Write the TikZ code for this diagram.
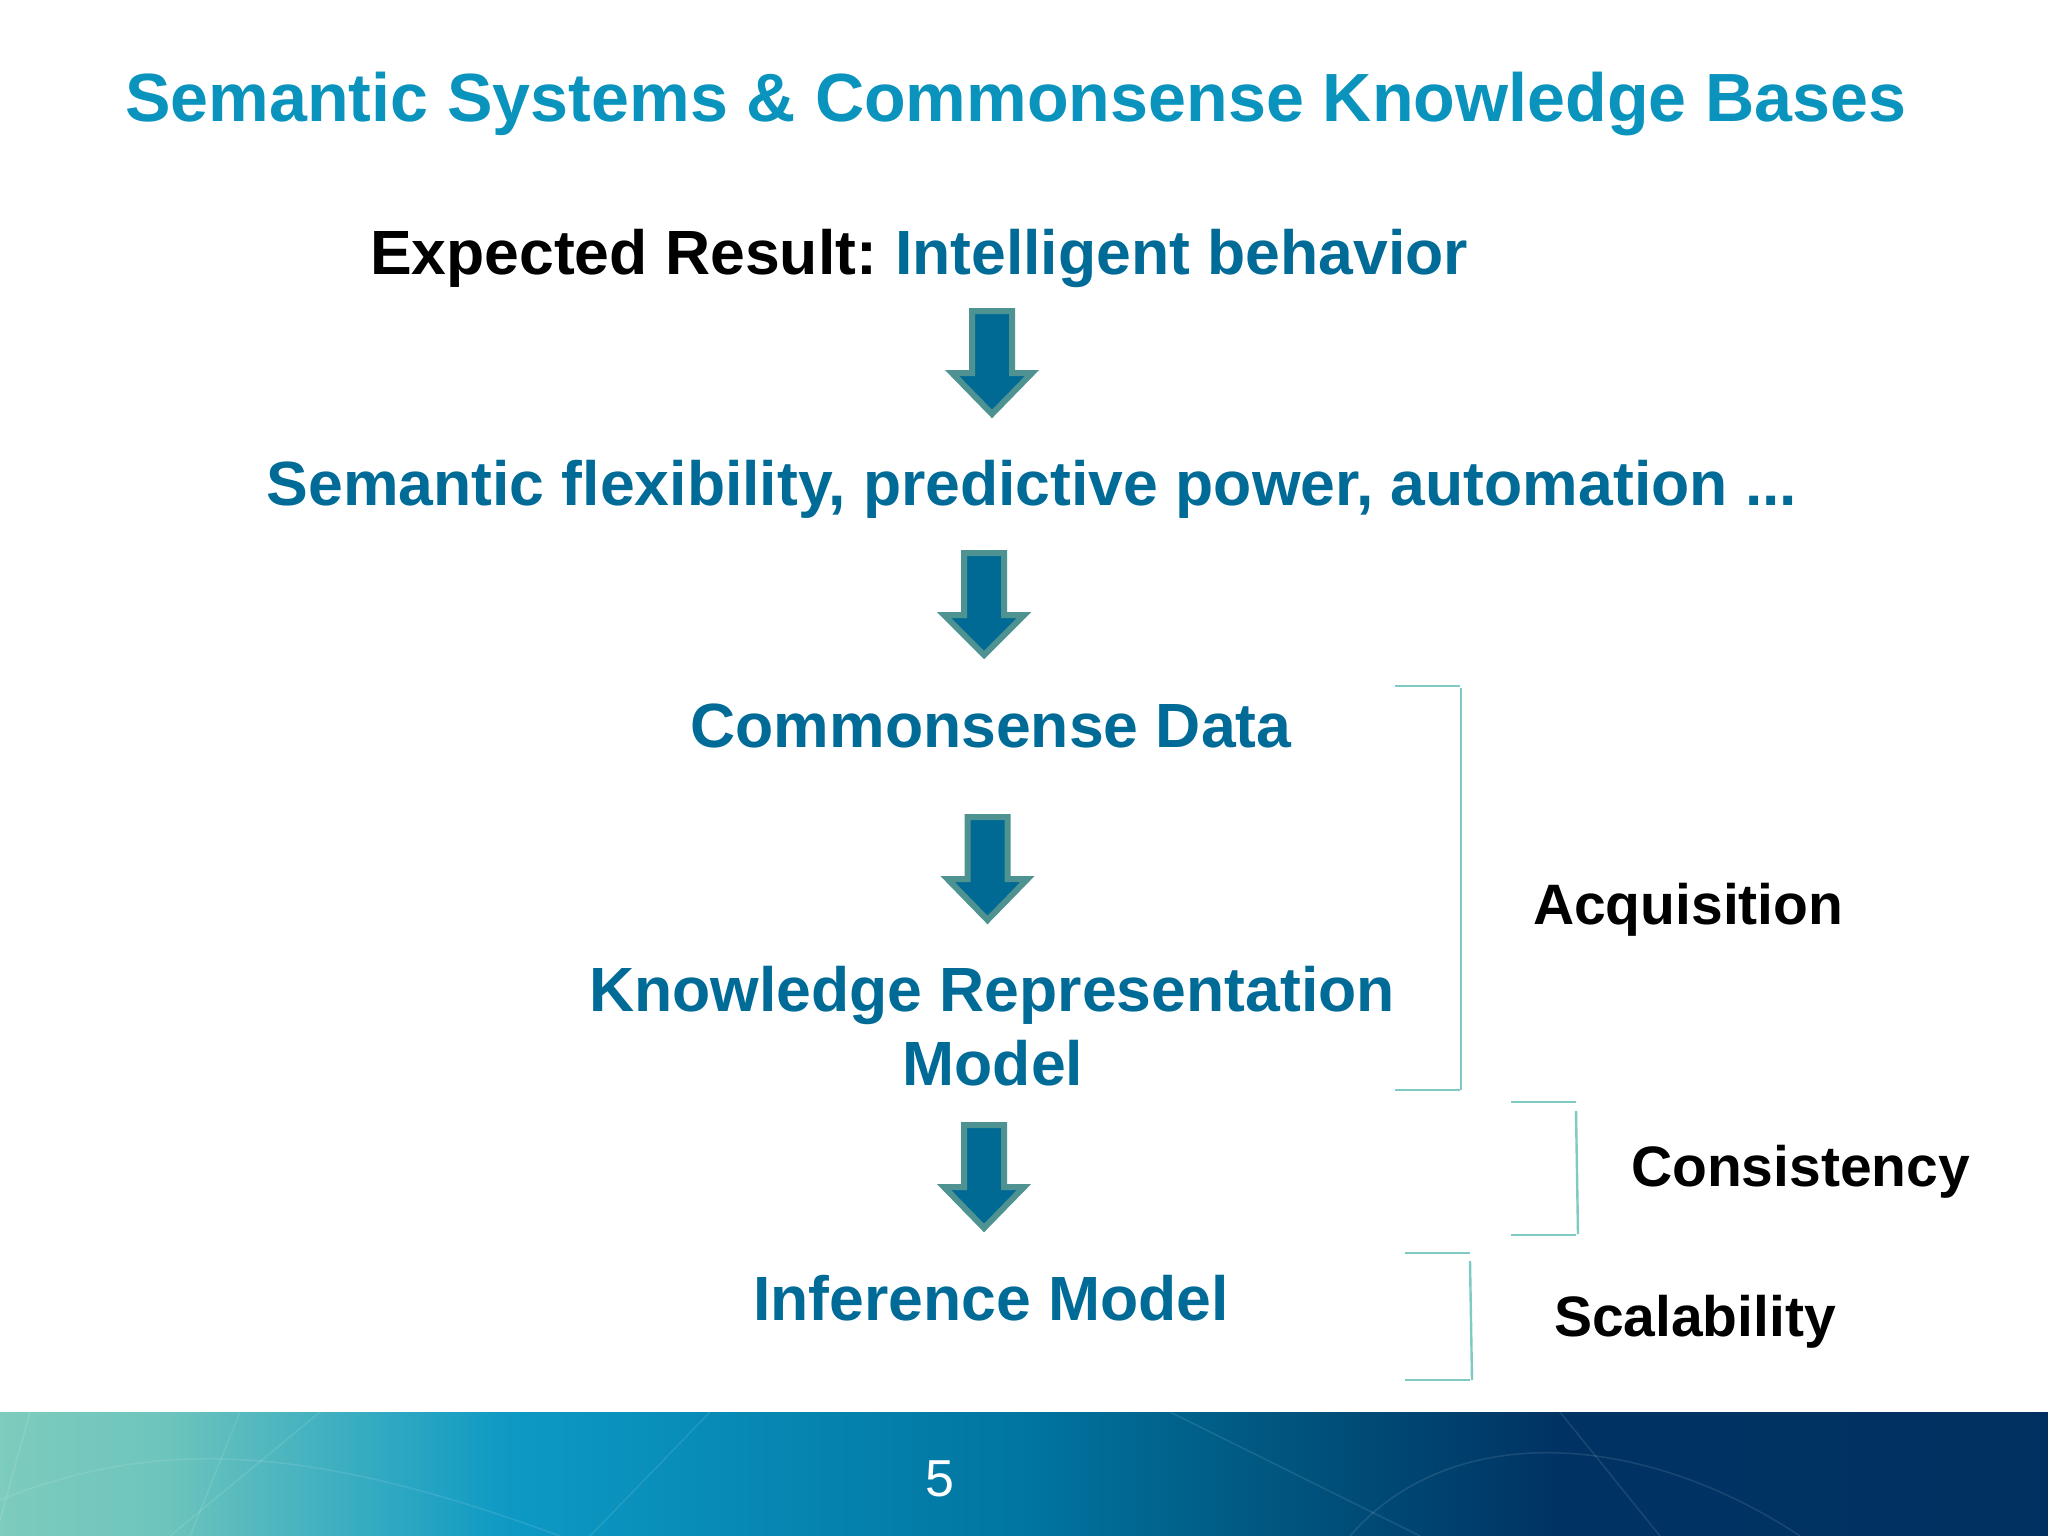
\documentclass[tikz,border=0pt]{standalone}
\usepackage{fontspec}
\setmainfont{Liberation Sans}
\usepackage{xcolor}
\definecolor{titleblue}{HTML}{0A93BC}
\definecolor{bodyblue}{HTML}{006B96}
\definecolor{arrowfill}{HTML}{006A94}
\definecolor{arrowedge}{HTML}{4F9292}
\definecolor{brk}{HTML}{7FCAC2}
\pgfdeclarehorizontalshading{barshade}{100bp}{
  rgb(0bp)=(0.49,0.80,0.74);
  rgb(25bp)=(0.49,0.80,0.74);
  rgb(29bp)=(0.43,0.77,0.74);
  rgb(37.5bp)=(0.05,0.60,0.77);
  rgb(50bp)=(0.0,0.46,0.63);
  rgb(56bp)=(0.0,0.34,0.50);
  rgb(63bp)=(0.0,0.20,0.39);
  rgb(75bp)=(0.0,0.19,0.38);
  rgb(100bp)=(0.0,0.19,0.38)}
\tikzset{
  lbl/.style={inner sep=0pt,outer sep=0pt,font=\bfseries\fontsize{#1}{#1}\selectfont},
  blockarrow/.style={fill=arrowfill,draw=arrowedge,line width=6pt,line join=miter,miter limit=10},
  brack/.style={draw=brk,line width=2.4pt},
  faint/.style={draw=white,line width=1.5pt,opacity=0.10}
}
\newcommand{\blockdown}[3]{% centre x, top y, tip y (outer)
  \draw[blockarrow] (#1-20,#2+3) -- (#1+20,#2+3) -- (#1+20,#2+65) -- (#1+40,#2+65)
    -- (#1,#3-4) -- (#1-40,#2+65) -- (#1-20,#2+65) -- cycle;}
\begin{document}
\begin{tikzpicture}[x=1pt,y=-1pt]
\useasboundingbox (0,0) rectangle (2048,1536);
\fill[white] (0,0) rectangle (2048,1536);
% bottom band
\shade[shading=barshade] (0,1412) rectangle (2048,1536);
\begin{scope}
\clip (0,1412) rectangle (2048,1536);
\draw[faint] (0,1500) .. controls (150,1440) and (300,1440) .. (560,1536);
\draw[faint] (170,1536) -- (320,1412);
\draw[faint] (30,1412) -- (0,1520);
\draw[faint] (240,1412) -- (190,1536);
\draw[faint] (1170,1412) -- (1420,1536);
\draw[faint] (1350,1536) .. controls (1450,1420) and (1640,1430) .. (1800,1536);
\draw[faint] (1560,1412) -- (1660,1536);
\draw[faint] (710,1412) -- (590,1536);
\end{scope}
% title and texts
\node[lbl=68.2,anchor=base,text=titleblue] (title) at (1016,121.5) {Semantic Systems \& Commonsense Knowledge Bases};
\node[lbl=62.5,anchor=base west] (exp) at (370,274) {Expected Result:};
\node[lbl=62.5,anchor=base west,text=bodyblue] (res) at (895,274) {Intelligent behavior};
\node[lbl=62.5,anchor=base,text=bodyblue] (sem) at (1032,505) {Semantic flexibility, predictive power, automation ...};
\node[lbl=62.5,anchor=base,text=bodyblue] (data) at (991,747) {Commonsense Data};
\node[lbl=62.5,anchor=base,text=bodyblue] (kr) at (992,1011) {Knowledge Representation};
\node[lbl=62.5,anchor=base,text=bodyblue] (model) at (993,1085) {Model};
\node[lbl=62.5,anchor=base,text=bodyblue] (inf) at (991,1320) {Inference Model};
\node[lbl=57,anchor=base west] (acq) at (1533,924) {Acquisition};
\node[lbl=57,anchor=base west] (con) at (1631,1186) {Consistency};
\node[lbl=57,anchor=base west] (sca) at (1554,1336) {Scalability};
\node[inner sep=0pt,anchor=base,text=white,font=\fontsize{52}{52}\selectfont] (num) at (940,1496) {5};
% block arrows
\blockdown{992}{308}{418}
\blockdown{984}{550}{659}
\blockdown{987.5}{814}{924}
\blockdown{984}{1122}{1232}
% brackets
\draw[brack] (1395,686) -- (1460,686);
\draw[brack] (1461,688) -- (1461,1090);
\draw[brack] (1395,1090) -- (1460,1090);
\draw[brack] (1511,1102) -- (1576,1102);
\draw[brack] (1576,1111) -- (1578,1234);
\draw[brack] (1511,1235) -- (1576,1235);
\draw[brack] (1405,1253) -- (1470,1253);
\draw[brack] (1470,1261) -- (1472,1380);
\draw[brack] (1405,1380) -- (1470,1380);
\end{tikzpicture}
\end{document}
